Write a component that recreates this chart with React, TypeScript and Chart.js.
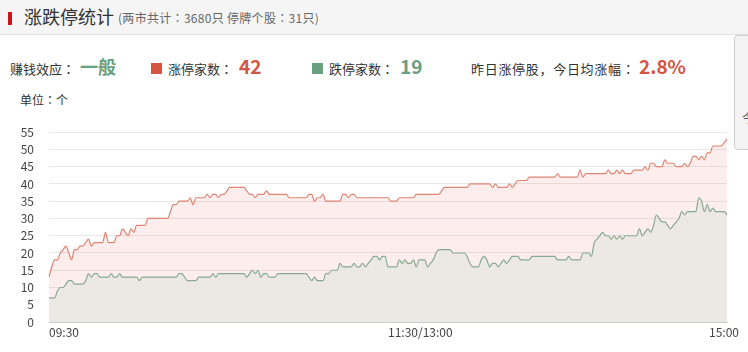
import React, { useEffect, useRef } from 'react';
import { Chart, registerables } from 'chart.js';

Chart.register(...registerables);

// 涨停家数 (per minute, 09:30 -> 11:30/13:00 -> 15:00, 241 points)
const zhangTing: number[] = [
  13, 16, 18, 18, 20, 21, 22, 20, 18, 21,
  21, 22, 22, 23, 24, 22, 23, 23, 23, 23,
  26, 23, 23, 23, 25, 25, 27, 26, 25, 27,
  26, 28, 28, 28, 28, 30, 30, 30, 30, 30,
  30, 30, 30, 32, 34, 34, 35, 35, 35, 35,
  36, 34, 36, 36, 36, 36, 37, 36, 37, 37,
  36, 37, 37, 38, 39, 39, 39, 39, 39, 39,
  38, 37, 37, 36, 37, 37, 37, 38, 37, 37,
  37, 37, 37, 37, 37, 36, 36, 36, 36, 36,
  36, 36, 37, 37, 35, 36, 36, 37, 35, 35,
  35, 35, 35, 35, 37, 37, 36, 37, 37, 36,
  36, 36, 36, 36, 36, 36, 36, 36, 36, 36,
  36, 35, 35, 35, 36, 36, 36, 36, 36, 36,
  37, 37, 37, 37, 37, 37, 37, 37, 37, 38,
  39, 39, 39, 39, 39, 39, 39, 39, 39, 40,
  40, 40, 40, 40, 40, 40, 40, 39, 40, 39,
  39, 39, 39, 40, 39, 40, 41, 41, 41, 41,
  42, 42, 42, 42, 42, 42, 42, 42, 42, 42,
  43, 42, 42, 42, 42, 42, 42, 42, 44, 42,
  43, 43, 43, 43, 43, 43, 43, 43, 44, 43,
  43, 44, 43, 44, 43, 43, 43, 44, 44, 44,
  44, 45, 44, 46, 46, 45, 45, 45, 47, 46,
  46, 46, 45, 45, 45, 46, 45, 46, 48, 48,
  47, 48, 47, 49, 49, 51, 51, 51, 51, 52,
  53,
];

// 跌停家数 (per minute)
const dieTing: number[] = [
  7, 7, 7, 9, 10, 10, 11, 12, 12, 11,
  11, 11, 11, 12, 14, 13, 14, 14, 13, 13,
  13, 13, 14, 13, 13, 14, 13, 13, 13, 13,
  13, 13, 12, 13, 13, 13, 13, 13, 13, 13,
  13, 13, 13, 13, 13, 13, 14, 14, 13, 12,
  12, 12, 12, 13, 13, 13, 13, 13, 14, 13,
  14, 14, 14, 14, 14, 14, 14, 14, 14, 14,
  13, 14, 15, 14, 15, 13, 14, 14, 13, 13,
  13, 14, 14, 14, 14, 14, 14, 14, 14, 14,
  14, 14, 13, 12, 13, 12, 12, 12, 14, 14,
  15, 15, 15, 17, 16, 16, 16, 16, 17, 16,
  16, 17, 16, 17, 18, 19, 19, 18, 19, 19,
  16, 16, 16, 16, 18, 17, 18, 17, 17, 18,
  16, 18, 18, 18, 16, 17, 18, 20, 21, 21,
  21, 21, 21, 20, 20, 20, 20, 20, 19, 17,
  16, 16, 16, 18, 19, 18, 16, 17, 17, 16,
  17, 18, 17, 18, 19, 19, 19, 18, 18, 18,
  18, 19, 19, 19, 19, 19, 19, 19, 19, 19,
  18, 18, 18, 18, 19, 18, 18, 18, 18, 20,
  20, 20, 19, 23, 24, 25, 26, 25, 25, 24,
  25, 24, 25, 24, 25, 25, 25, 25, 25, 27,
  25, 26, 27, 26, 28, 31, 30, 29, 29, 28,
  27, 28, 29, 30, 32, 31, 32, 32, 32, 32,
  36, 35, 32, 34, 32, 33, 32, 32, 32, 32,
  31,
];

const xTickLabels = ['09:30', '11:30/13:00', '15:00'];
const xTickIndex = [0, 120, 240];
const xTickAlign: CanvasTextAlign[] = ['left', 'left', 'center'];

const yMin = 0;
const yMax = 55;
const yStep = 5;

const FONT = '"Microsoft YaHei", "Noto Sans CJK SC", sans-serif';
const PUNCT_FONT = '"Noto Sans CJK TC", "Noto Sans CJK SC", sans-serif';
const RED = '#d45543';
const GREEN = '#68a080';

function buildTimeLabels(): string[] {
  const out: string[] = [];
  const fmt = (m: number) => {
    const h = Math.floor(m / 60);
    const mm = m % 60;
    return `${String(h).padStart(2, '0')}:${String(mm).padStart(2, '0')}`;
  };
  for (let m = 9 * 60 + 30; m <= 11 * 60 + 30; m++) out.push(fmt(m));
  for (let m = 13 * 60 + 1; m <= 15 * 60; m++) out.push(fmt(m));
  return out;
}

const xLabelPlugin = {
  id: 'xLabelPlugin',
  afterDraw(chart: any) {
    const { ctx, scales, chartArea } = chart;
    const xs = scales.x;
    ctx.save();
    ctx.font = `12px ${FONT}`;
    ctx.fillStyle = '#444';
    ctx.textBaseline = 'middle';
    xTickLabels.forEach((lab, i) => {
      ctx.textAlign = xTickAlign[i];
      const off = i === xTickLabels.length - 1 ? -3 : 0;
      ctx.fillText(lab, xs.getPixelForValue(xTickIndex[i]) + off, chartArea.bottom + 10);
    });
    ctx.restore();
  },
};

function ZtChart() {
  const ref = useRef<HTMLCanvasElement | null>(null);
  useEffect(() => {
    if (!ref.current) return;
    const labels = buildTimeLabels();
    const chart = new Chart(ref.current, {
      type: 'line',
      data: {
        labels,
        datasets: [
          {
            label: '涨停家数',
            data: zhangTing,
            borderColor: '#de8472',
            backgroundColor: 'rgba(232, 90, 80, 0.1)',
            borderWidth: 1.2,
            fill: 'origin',
            pointRadius: 0,
            cubicInterpolationMode: 'monotone',
            order: 2,
          },
          {
            label: '跌停家数',
            data: dieTing,
            borderColor: '#86a991',
            backgroundColor: '#ece8e4',
            borderWidth: 1.2,
            fill: 'origin',
            pointRadius: 0,
            cubicInterpolationMode: 'monotone',
            order: 1,
          },
        ],
      },
      options: {
        responsive: false,
        animation: false,
        devicePixelRatio: 1,
        layout: { padding: { top: 15, right: 21, bottom: 22, left: 0 } },
        plugins: {
          legend: { display: false },
          tooltip: { enabled: false },
        },
        scales: {
          x: {
            type: 'category',
            offset: false,
            grid: { display: false },
            border: { display: true, color: '#cccccc', width: 1 },
            ticks: { display: false },
          },
          y: {
            min: yMin,
            max: yMax,
            ticks: {
              stepSize: yStep,
              autoSkip: false,
              padding: 15,
              color: '#444',
              font: { size: 12, family: FONT },
            },
            grid: { color: '#e8e8e8', drawTicks: false },
            border: { display: false },
            afterFit(scale: any) {
              scale.width = 49;
            },
          },
        },
      },
      plugins: [xLabelPlugin],
    });
    return () => chart.destroy();
  }, []);
  return (
    <canvas
      ref={ref}
      width={748}
      height={242}
      style={{ position: 'absolute', left: 0, top: 110, width: 748, height: 242 }}
    />
  );
}

const abs = (left: number, top: number, size: number, extra: React.CSSProperties = {}): React.CSSProperties => ({
  position: 'absolute',
  left,
  top,
  fontSize: size,
  lineHeight: `${size}px`,
  whiteSpace: 'nowrap',
  ...extra,
});

// render full-width colons centred (as in the reference's font)
function T({ s }: { s: string }) {
  const parts = s.split('：');
  return (
    <>
      {parts.map((p, i) => (
        <React.Fragment key={i}>
          {p}
          {i < parts.length - 1 && <span style={{ fontFamily: PUNCT_FONT }}>：</span>}
        </React.Fragment>
      ))}
    </>
  );
}

export default function App() {
  return (
    <div
      style={{
        position: 'fixed',
        left: 0,
        top: 0,
        width: 748,
        height: 352,
        overflow: 'hidden',
        background: '#ffffff',
        fontFamily: FONT,
        color: '#333',
      }}
    >
      {/* header */}
      <div
        style={{
          position: 'absolute',
          left: 0,
          top: 0,
          width: 748,
          height: 35,
          background: '#f5f5f5',
          borderBottom: '1px solid #e2e2e2',
          boxSizing: 'border-box',
        }}
      />
      <div style={{ position: 'absolute', left: 8, top: 12, width: 4, height: 13, background: '#c9161d' }} />
      <span style={abs(24, 6.5, 18, { color: '#333' })}>涨跌停统计</span>
      <span style={abs(118, 12, 12, { color: '#666', letterSpacing: 0.3 })}>
        <T s="(两市共计：3680只 停牌个股：31只)" />
      </span>

      {/* right side tab */}
      <div
        style={{
          position: 'absolute',
          left: 734,
          top: 35,
          width: 30,
          height: 115,
          background: '#f3f3f3',
          border: '1px solid #cfcfcf',
          borderRadius: 4,
          boxSizing: 'border-box',
        }}
      />
      <span style={abs(742, 112, 12, { color: '#555' })}>今</span>

      {/* summary row */}
      <span style={abs(10, 62, 13)}>
        <T s="赚钱效应：" />
      </span>
      <span style={abs(80, 57.4, 18, { color: GREEN, fontWeight: 'bold' })}>一般</span>

      <div style={{ position: 'absolute', left: 151, top: 62.5, width: 11, height: 11, background: RED }} />
      <span style={abs(168, 62, 13)}>
        <T s="涨停家数：" />
      </span>
      <span style={abs(239, 56.4, 19, { color: RED, fontWeight: 'bold' })}>42</span>

      <div style={{ position: 'absolute', left: 312, top: 62.5, width: 11, height: 11, background: GREEN }} />
      <span style={abs(329, 62, 13)}>
        <T s="跌停家数：" />
      </span>
      <span style={abs(400, 56.4, 19, { color: GREEN, fontWeight: 'bold' })}>19</span>

      <span style={abs(471, 62, 13, { letterSpacing: 0.7 })}>
        <T s="昨日涨停股，今日均涨幅：" />
      </span>
      <span style={abs(639, 56.4, 19, { color: RED, fontWeight: 'bold' })}>2.8%</span>

      <span style={abs(20, 94.3, 12)}>
        <T s="单位：个" />
      </span>

      <ZtChart />
    </div>
  );
}
